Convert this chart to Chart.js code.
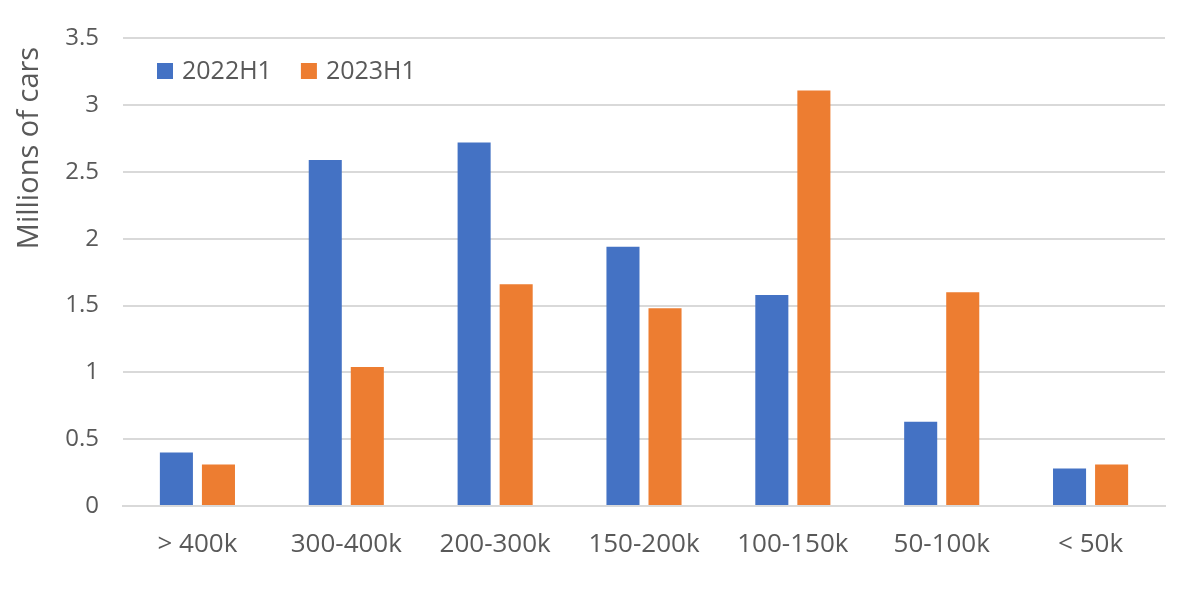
<!DOCTYPE html>
<html><head><meta charset="utf-8">
<script src="https://cdn.jsdelivr.net/npm/chart.js@4.4.0/dist/chart.umd.min.js"></script>
<style>html,body{margin:0;padding:0;background:#fff;}#wrap{width:1200px;height:600px;}</style>
</head><body><div id="wrap"><canvas id="c" width="1200" height="600"></canvas></div>
<script>
const categories = ["> 400k","300-400k","200-300k","150-200k","100-150k","50-100k","< 50k"];
const series2022 = [0.40, 2.59, 2.72, 1.94, 1.58, 0.63, 0.28];
const series2023 = [0.31, 1.04, 1.66, 1.48, 3.11, 1.60, 0.31];
const seriesNames = ["2022H1","2023H1"];
const yTitle = "Millions of cars";

const FONT = "'Open Sans', 'Liberation Sans', sans-serif";
const TXT = "#595959";

const extras = {
  id: 'extras',
  afterDraw(chart) {
    const ctx = chart.ctx;
    ctx.save();
    ctx.font = "25px " + FONT;
    ctx.textBaseline = "middle";
    let x = 157;
    const y = 71;
    chart.data.datasets.forEach(ds => {
      ctx.fillStyle = ds.backgroundColor;
      ctx.fillRect(x, y - 8, 16, 16);
      ctx.fillStyle = TXT;
      ctx.fillText(ds.label, x + 25, y + 1);
      x += 25 + ctx.measureText(ds.label).width + 29;
    });
    // y axis title
    ctx.translate(30, 148);
    ctx.rotate(-Math.PI / 2);
    ctx.textAlign = "center";
    ctx.font = "29px " + FONT;
    ctx.fillText(yTitle, 0, 0);
    ctx.restore();
  }
};

new Chart(document.getElementById('c'), {
  type: 'bar',
  data: {
    labels: categories,
    datasets: [
      {label: seriesNames[0], data: series2022, backgroundColor: '#4472C4'},
      {label: seriesNames[1], data: series2023, backgroundColor: '#ED7D31'}
    ]
  },
  options: {
    responsive: false,
    animation: false,
    layout: {padding: {left: 0, right: 35, top: 30, bottom: 0}},
    plugins: {legend: {display: false}, tooltip: {enabled: false}},
    datasets: {bar: {categoryPercentage: 0.565, barPercentage: 0.786}},
    scales: {
      x: {
        grid: {display: false, drawTicks: false},
        border: {display: true, color: '#d9d9d9', width: 2},
        ticks: {color: TXT, font: {family: FONT, size: 26}, padding: 23, maxRotation: 0},
        afterFit(s) { s.height = 94; }
      },
      y: {
        min: 0, max: 3.5,
        ticks: {stepSize: 0.5, color: TXT, font: {family: FONT, size: 24}, padding: 24,
          callback: v => String(v)},
        grid: {color: '#d9d9d9', lineWidth: 2, drawTicks: false},
        border: {display: false},
        afterFit(s) { s.width = 123; }
      }
    }
  },
  plugins: [extras]
});
</script></body></html>
